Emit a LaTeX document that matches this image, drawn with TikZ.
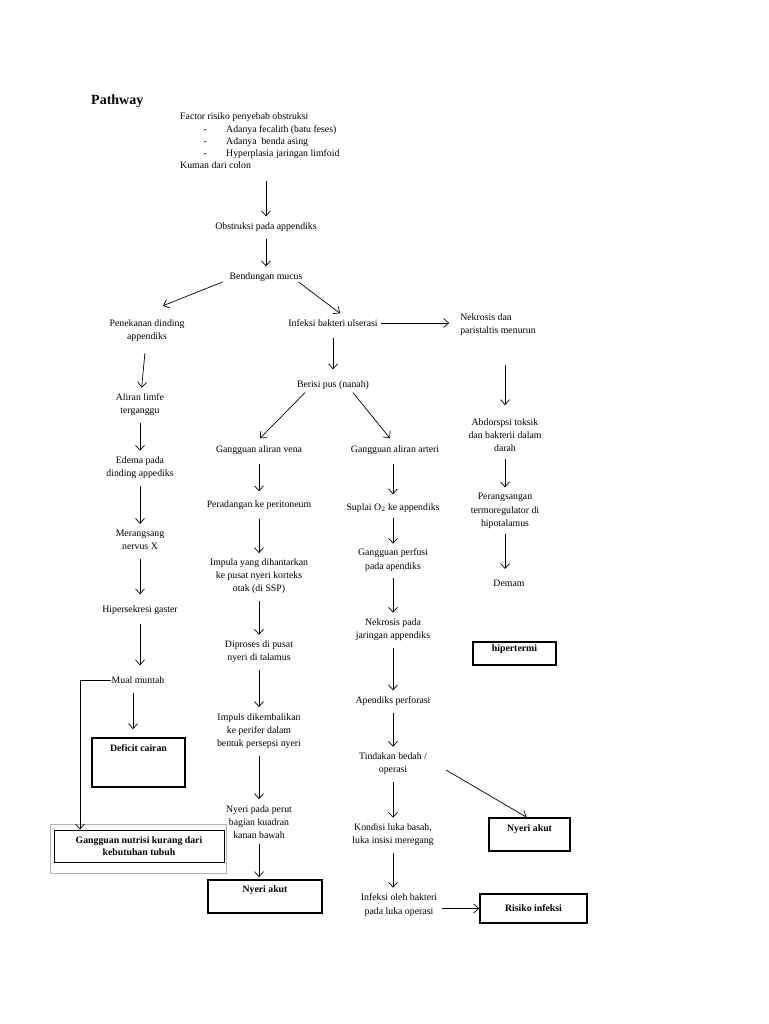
\documentclass[tikz,border=0pt]{standalone}
\usepackage{fontspec}
\setmainfont{Liberation Serif}
\usetikzlibrary{arrows.meta,calc}
\begin{document}
\begin{tikzpicture}[x=1pt,y=-1pt,
  every node/.style={font=\fontsize{9.8}{13.2}\selectfont,align=center,inner sep=1pt},
  ar/.style={-{Straight Barb[length=5pt,width=9pt]},line width=0.7pt,shorten <=6pt,shorten >=5pt},
  box/.style={draw,line width=1.6pt,font=\fontsize{9.8}{12}\selectfont\bfseries,inner sep=0pt}]
\useasboundingbox (0,0) rectangle (768,1024);
\node[anchor=west,font=\fontsize{14}{15}\selectfont\bfseries,inner sep=0pt] (title) at (91,101) {Pathway};
\node[anchor=north west,align=left,inner sep=0pt,font=\fontsize{9.8}{12.2}\selectfont] (fac) at (180,113)
 {Factor risiko penyebab obstruksi\\
  \hspace*{25pt}\makebox[0pt]{-}\hspace*{21pt}Adanya fecalith (batu feses)\\
  \hspace*{25pt}\makebox[0pt]{-}\hspace*{21pt}Adanya\ \ benda asing\\
  \hspace*{25pt}\makebox[0pt]{-}\hspace*{21pt}Hyperplasia jaringan limfoid\\
  Kuman dari colon};
\node (obs) at (266,227) {Obstruksi pada appendiks};
\node (bend) at (266,277) {Bendungan mucus};
\node (pen) at (147,331) {Penekanan dinding\\appendiks};
\node (inf) at (333,323) {Infeksi bakteri ulserasi};
\node[align=left] (nek) at (498,325) {Nekrosis dan\\paristaltis menurun};
\node (ber) at (333,385) {Berisi pus (nanah)};
\node (gav) at (259,450) {Gangguan aliran vena};
\node (gaa) at (395,450) {Gangguan aliran arteri};
% left column
\node (ali) at (140,405) {Aliran limfe\\terganggu};
\node (ede) at (140,468) {Edema pada\\dinding appediks};
\node (mer) at (140,540) {Merangsang\\nervus X};
\node (hip) at (140,610) {Hipersekresi gaster};
\node (mual) at (138,680) {Mual muntah};
\node[box,minimum width=93pt,minimum height=49pt,text height=8pt,text depth=30pt] (def) at (138.5,762.5) {Deficit cairan};
\draw[gray!60,line width=0.8pt] (50,824) rectangle (226,873);
\node[box,line width=1pt,minimum width=170pt,minimum height=32pt] (gnut) at (139,846) {Gangguan nutrisi kurang dari\\kebutuhan tubuh};
% middle column
\node (per) at (259,505) {Peradangan ke peritoneum};
\node (imp) at (259,576) {Impula yang dihantarkan\\ke pusat nyeri korteks\\otak (di SSP)};
\node (dip) at (259,652) {Diproses di pusat\\nyeri di talamus};
\node (ipl) at (259,731) {Impuls dikembalikan\\ke perifer dalam\\bentuk persepsi nyeri};
\node (nyp) at (259,822) {Nyeri pada perut\\bagian kuadran\\kanan bawah};
\node[box,minimum width=114pt,minimum height=33pt,text height=8pt,text depth=17pt] (na1) at (265,896.5) {Nyeri akut};
% right-middle column
\node (sup) at (393,508) {Suplai O$_2$ ke appendiks};
\node (gp) at (393,560) {Gangguan perfusi\\pada apendiks};
\node (nj) at (393,630) {Nekrosis pada\\jaringan appendiks};
\node (apf) at (393,701) {Apendiks perforasi};
\node (tin) at (393,764) {Tindakan bedah /\\operasi};
\node (kon) at (393,835) {Kondisi luka basah,\\luka insisi meregang};
\node (ilo) at (399,905) {Infeksi oleh bakteri\\pada luka operasi};
\node[box,minimum width=107pt,minimum height=29pt] (ris) at (533.5,908.5) {Risiko infeksi};
\node[box,minimum width=81pt,minimum height=33pt,text height=8pt,text depth=14pt] (na2) at (529.5,834.5) {Nyeri akut};
% right column
\node (abd) at (505,435) {Abdorspsi toksik\\dan bakterii dalam\\darah};
\node (prg) at (505,511) {Perangsangan\\termoregulator di\\hipotalamus};
\node (dem) at (509,583) {Demam};
\node[box,minimum width=83pt,minimum height=23pt,text height=8pt,text depth=12pt] (hpt) at (514.5,653.5) {hipertermi};
% connectors
\draw[ar,shorten <=12pt] (obs|-fac.south) -- (obs);
\draw[ar] (obs) -- (bend);
\draw[ar,shorten <=0pt,shorten >=0pt] ($(bend.west)+(-6,5)$) -- ($(pen.north)+(16,-13)$);
\draw[ar,shorten <=0pt,shorten >=0pt] ($(bend.east)+(-5,5)$) -- ($(inf.north)+(7,-5)$);
\draw[ar,shorten <=2pt,shorten >=10pt] (inf.east) -- (nek.west|-inf.east);
\draw[ar,shorten <=10pt,shorten >=10pt] (inf) -- (ber);
\draw[ar,shorten <=0pt,shorten >=0pt] ($(ber.south)+(-28,2)$) -- ($(gav.north)+(1,-6)$);
\draw[ar,shorten <=0pt,shorten >=0pt] ($(ber.south)+(20,2)$) -- ($(gaa.north)+(-5,-6)$);
\draw[ar,shorten <=10pt] (pen) -- (ali);
\draw[ar] (ali) -- (ede);
\draw[ar] (ede) -- (mer);
\draw[ar,shorten <=8pt,shorten >=10pt] (mer) -- (hip);
\draw[ar,shorten <=8pt,shorten >=10pt] (hip.south) -- (hip.south|-mual.north);
\draw[ar,shorten <=8pt,shorten >=8pt] (mual.south-|133,0) -- (def.north-|133,0);
\draw[-{Straight Barb[length=5pt,width=9pt]},line width=0.7pt] (mual.west) -- (80,680) -- (gnut.north-|80,0);
\draw[ar,shorten <=8pt,shorten >=8pt] (gav) -- (per);
\draw[ar,shorten <=8pt,shorten >=4pt] (per) -- (imp);
\draw[ar] (imp) -- (dip);
\draw[ar] (dip) -- (ipl);
\draw[ar] (ipl) -- (nyp);
\draw[ar,shorten <=4pt,shorten >=2pt] (nyp) -- (na1.north-|nyp);
\draw[ar,shorten <=8pt,shorten >=8pt] (gaa.south-|sup) -- (sup);
\draw[ar,shorten <=4pt,shorten >=4pt] (sup) -- (gp);
\draw[ar] (gp) -- (nj);
\draw[ar] (nj) -- (apf);
\draw[ar] (apf) -- (tin);
\draw[ar] (tin) -- (kon);
\draw[ar] (kon) -- (kon|-ilo.north);
\draw[ar,shorten <=4pt,shorten >=0pt] (ilo.east|-ris) -- (ris.west);
\draw[ar,shorten <=0pt,shorten >=0pt] ($(tin.east)+(18,6)$) -- ($(na2.north)+(-3,0)$);
\draw[ar,shorten <=28pt,shorten >=12pt] (nek.south-|abd) -- (abd);
\draw[ar] (abd) -- (prg);
\draw[ar,shorten <=4pt,shorten >=14pt] (prg) -- (prg|-dem);
\end{tikzpicture}
\end{document}
